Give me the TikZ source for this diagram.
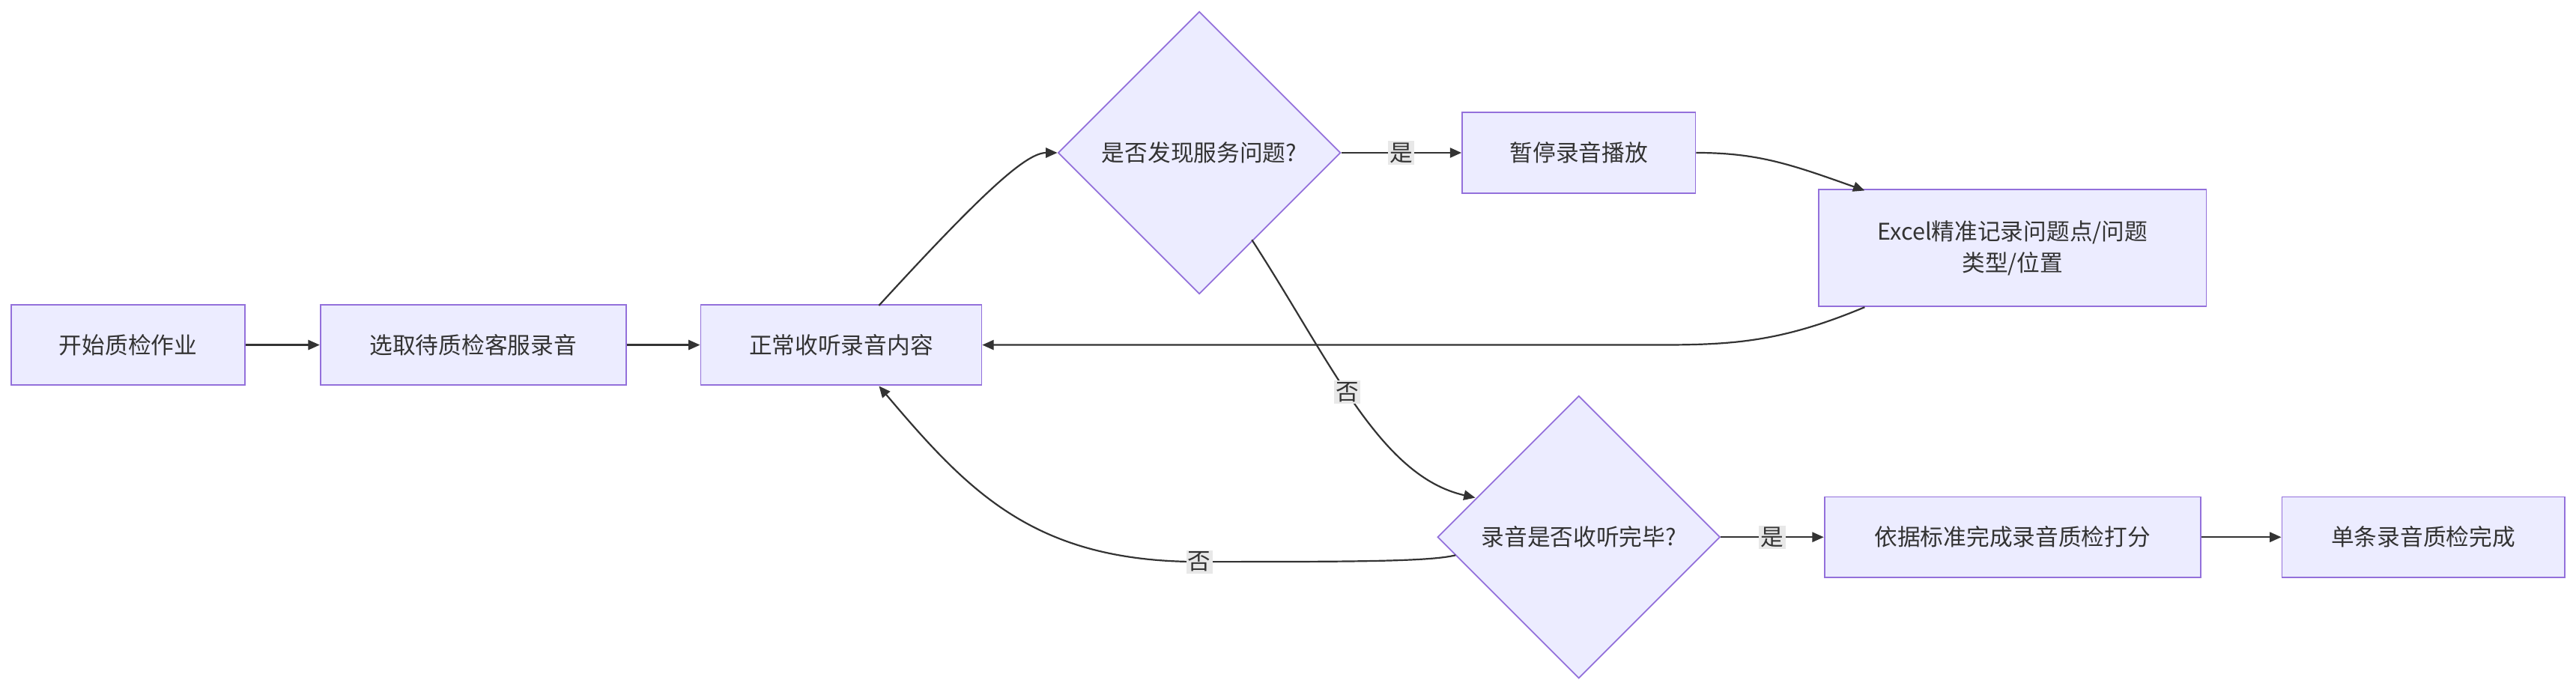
\documentclass[tikz,border=0pt]{standalone}
\usepackage{fontspec}
\setmainfont{Noto Sans CJK SC}
\usetikzlibrary{shapes.geometric,arrows.meta}
\definecolor{nfill}{HTML}{ECECFF}
\definecolor{nline}{HTML}{9370DB}
\definecolor{ink}{HTML}{333333}
\definecolor{lbg}{HTML}{E8E8E8}
\begin{document}
\begin{tikzpicture}[x=1pt,y=-1pt,
  every node/.style={font=\fontsize{14}{19}\selectfont, text=ink},
  box/.style={draw=nline, fill=nfill, line width=0.8pt, minimum height=49pt, inner sep=0pt, align=center},
  dia/.style={draw=nline, fill=nfill, line width=0.8pt, diamond, minimum width=172pt, minimum height=172pt, inner sep=0pt, aspect=1},
  edge/.style={draw=ink, line width=1pt, -{Triangle[length=7pt,width=6pt]}},
  lab/.style={fill=lbg, inner sep=1pt}]
\useasboundingbox (0,0) rectangle (1568,421);
\node[box, minimum width=142pt] (start) at (78,210) {开始质检作业};
\node[box, minimum width=186pt] (sel) at (288,210) {选取待质检客服录音};
\node[box, minimum width=171pt] (lis) at (512,210) {正常收听录音内容};
\node[dia] (d1) at (730,93) {是否发现服务问题?};
\node[box, minimum width=142pt] (pause) at (961,93) {暂停录音播放};
\node[box, minimum width=236pt, minimum height=71pt, text width=220pt] (xl) at (1225,151) {Excel精准记录问题点/问题\\类型/位置};
\node[dia] (d2) at (961,327) {录音是否收听完毕?};
\node[box, minimum width=229pt] (score) at (1225,327) {依据标准完成录音质检打分};
\node[box, minimum width=172pt] (done) at (1475,327) {单条录音质检完成};
\coordinate (lt) at (535,186);
\coordinate (lb) at (535,235);
\coordinate (xb) at (1135,187);
\coordinate (d1o) at (762,146);
\coordinate (d2i) at (898,303);
\coordinate (d2o) at (886,338);
\draw[edge] (start) -- (sel);
\draw[edge] (sel) -- (lis);
\draw[edge] (lt) .. controls (600,115) and (625,93) .. (d1.west);
\draw[edge] (d1.east) -- node[lab]{是} (pause.west);
\draw[edge] (pause.east) .. controls (1070,93) and (1090,100) .. (1135,116);
\draw[edge] (xb) .. controls (1080,210) and (1050,210) .. (1000,210) -- (lis.east);
\draw[edge] (d1o) .. controls (810,220) and (840,290) .. node[lab,pos=0.45]{否} (d2i);
\draw[edge] (d2o) .. controls (870,342) and (820,342) .. (730,342) node[lab]{否} .. controls (630,342) and (590,300) .. (lb);
\draw[edge] (d2.east) -- node[lab]{是} (score.west);
\draw[edge] (score) -- (done);
\end{tikzpicture}
\end{document}
